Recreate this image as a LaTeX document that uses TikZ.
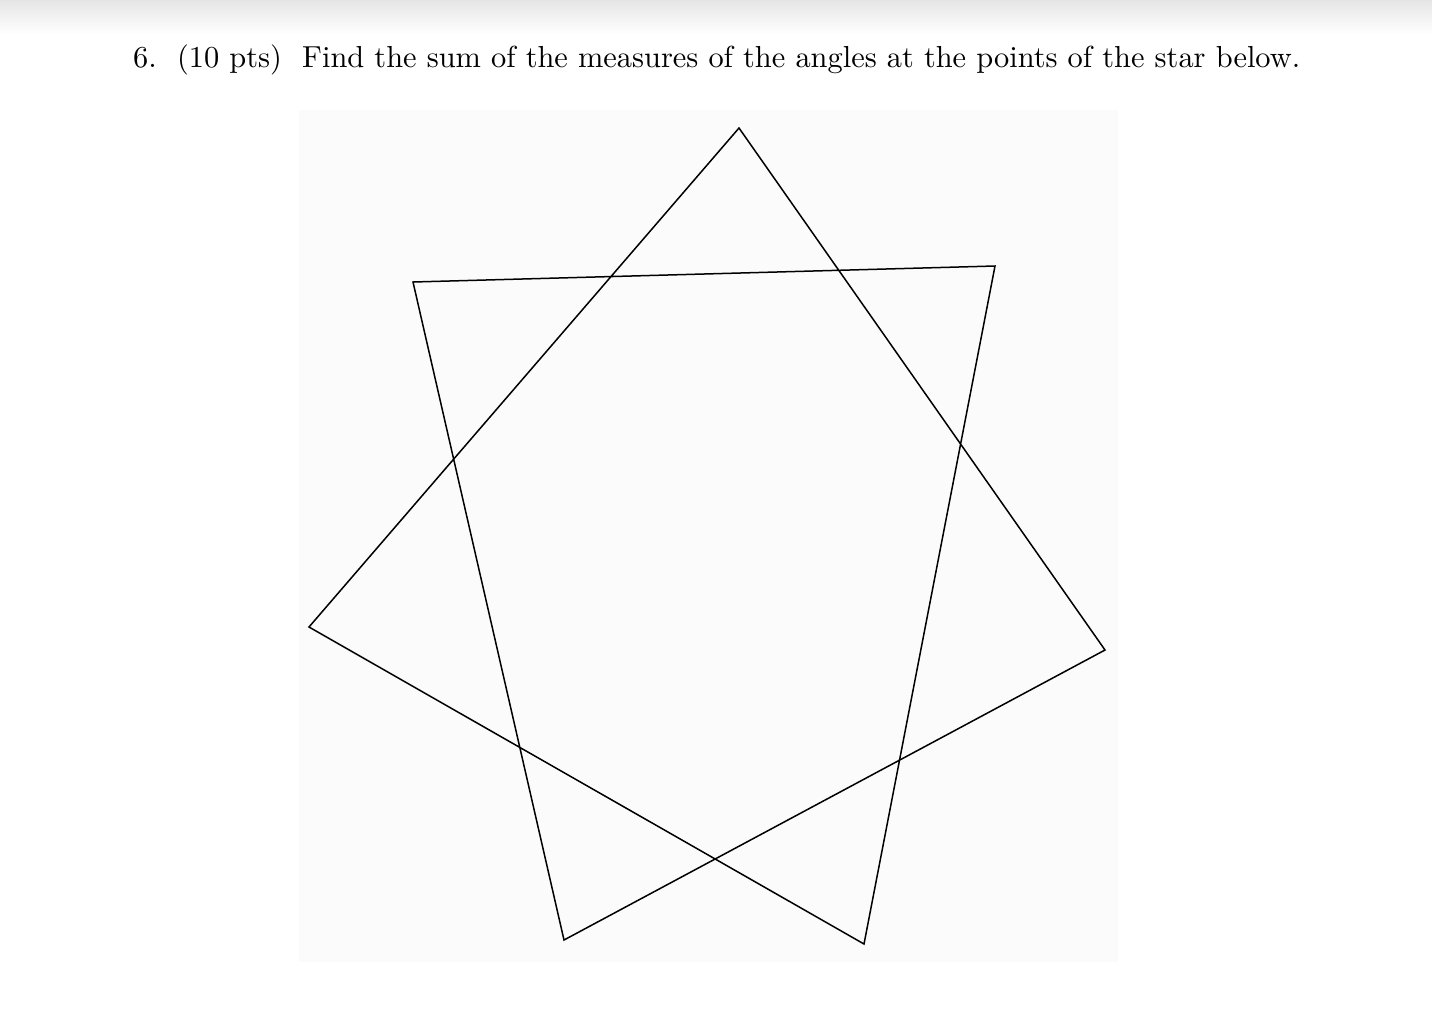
\documentclass[tikz,border=0pt]{standalone}
\usetikzlibrary{shadings}
\begin{document}
\begin{tikzpicture}[x=1pt,y=-1pt,
  star/.style={draw=black,line width=1.5pt,line join=miter}]
\useasboundingbox (0,0) rectangle (1432,1029);
\fill[white] (0,0) rectangle (1432,1029);
\shade[top color=black!10,bottom color=white] (0,0) rectangle (1432,34);
\fill[black!1.5] (299,110) rectangle (1118,962);
\node[anchor=base west,inner sep=0pt] (q) at (133,67)
  {\resizebox{1167pt}{!}{6.\ \ (10 pts)\ \ Find the sum of the measures of the angles at the points of the star below.}};
\coordinate (A) at (739,128);
\coordinate (B) at (995,266);
\coordinate (C) at (1105,650);
\coordinate (D) at (864,944);
\coordinate (E) at (564,940);
\coordinate (F) at (309,627);
\coordinate (G) at (413,282);
\draw[star] (A) -- (C) -- (E) -- (G) -- (B) -- (D) -- (F) -- cycle;
\end{tikzpicture}
\end{document}
